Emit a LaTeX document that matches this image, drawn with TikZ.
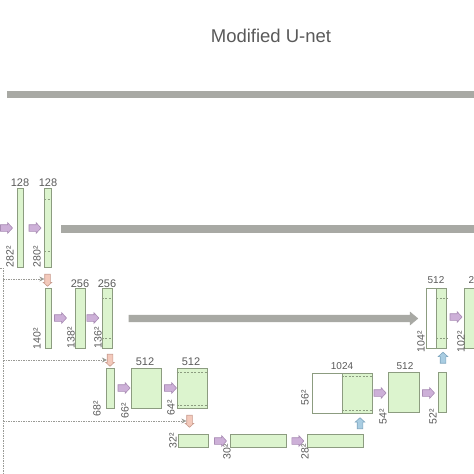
\documentclass[tikz,border=0pt]{standalone}
\usepackage{fontspec}
\setmainfont{Liberation Sans}
\usetikzlibrary{shapes.arrows,arrows.meta}
\definecolor{boxfill}{HTML}{DCF4CE}
\definecolor{boxline}{HTML}{8C9C80}
\definecolor{barcol}{HTML}{A8A9A4}
\definecolor{purfill}{HTML}{CDB0D8}
\definecolor{purline}{HTML}{A98CB4}
\definecolor{pinkfill}{HTML}{F3C9BB}
\definecolor{pinkline}{HTML}{C99C8E}
\definecolor{bluefill}{HTML}{A9CDE2}
\definecolor{blueline}{HTML}{7FA6BF}
\definecolor{txt}{HTML}{5A5A5A}
\definecolor{skip}{HTML}{9A9A96}
\newcommand\arrbody[1]{\makebox[#1pt]{\rule{0pt}{#1pt}}}
\tikzset{
  fmap/.style={draw=boxline, fill=boxfill, line width=0.8pt, inner sep=0pt, rectangle},
  wmap/.style={draw=boxline, fill=white, line width=0.8pt, inner sep=0pt, rectangle},
  inner/.style={boxline, dashed, line width=0.6pt, dash pattern=on 2pt off 1.5pt},
  chan/.style={text=txt, font=\fontsize{11}{11}\selectfont, inner sep=0pt},
  chans/.style={text=txt, font=\fontsize{10}{10}\selectfont, inner sep=0pt},
  dimlab/.style={text=txt, font=\fontsize{10.5}{10.5}\selectfont, inner sep=0pt, rotate=90},
  blk/.style={single arrow, inner sep=0pt, line width=0.6pt, single arrow head extend=2pt, single arrow tip angle=95},
  conv/.style={blk, draw=purline, fill=purfill, minimum height=12pt},
  down/.style={blk, draw=pinkline, fill=pinkfill, minimum height=12pt, shape border rotate=270, single arrow head extend=1.5pt},
  up/.style={blk, draw=blueline, fill=bluefill, minimum height=11pt, shape border rotate=90, single arrow head extend=2pt},
  bar/.style={fill=barcol, draw=none},
  skipline/.style={skip, dashed, line width=0.6pt, dash pattern=on 1.5pt off 1pt},
  skiparrow/.style={skipline, -{Stealth[length=5pt,width=5pt,fill=boxline]}}
}
\begin{document}
\begin{tikzpicture}[x=1pt,y=-1pt]
\useasboundingbox (0,0) rectangle (474,474);
\clip (0,0) rectangle (474,474);
\fill[white] (0,0) rectangle (474,474);

% title
\node[text=txt, font=\fontsize{18.5}{18.5}\selectfont, inner sep=0pt] (title) at (271,36) {Modified U-net};

% bars
\node[bar, minimum width=473pt, minimum height=7pt, inner sep=0pt] (bartop) at (243.5,94.5) {};
\node[bar, minimum width=419pt, minimum height=8pt, inner sep=0pt] (bar1) at (270.5,229) {};
\node[single arrow, fill=barcol, draw=none, inner sep=0pt, minimum height=289.5pt, single arrow head extend=3.25pt, single arrow tip angle=80] (bar2) at (271.25,318.5) {\arrbody{7}};

% level 1
\node[fmap, minimum width=6pt, minimum height=79pt] (b1) at (20,227.5) {};
\node[fmap, minimum width=7pt, minimum height=79pt] (b2) at (48,227.5) {};
\draw[inner] (b2.west |- 0,199) -- (b2.east |- 0,199);
\draw[inner] (b2.west |- 0,251) -- (b2.east |- 0,251);
\node[chan] (l1) at (20,183) {128};
\node[chan] (l2) at (48,183) {128};
\node[dimlab] (d1) at (10,257) {282²};
\node[dimlab] (d2) at (37,257) {280²};
\node[conv] (p1) at (5,228) {\arrbody{6}};
\node[conv] (p2) at (33.5,228) {\arrbody{6}};

% level 2
\node[fmap, minimum width=6pt, minimum height=60pt] (b3) at (48,318) {};
\node[fmap, minimum width=10pt, minimum height=60pt] (b4) at (80,318) {};
\node[fmap, minimum width=10pt, minimum height=60pt] (b5) at (107,318) {};
\draw[inner] (b5.west |- 0,298) -- (b5.east |- 0,298);
\draw[inner] (b5.west |- 0,338) -- (b5.east |- 0,338);
\node[chan] (l3) at (80,284) {256};
\node[chan] (l4) at (107,284) {256};
\node[dimlab] (d3) at (37,339) {140²};
\node[dimlab] (d4) at (71,338) {138²};
\node[dimlab] (d5) at (98,338) {136²};
\node[conv] (p3) at (59,318) {\arrbody{6}};
\node[conv] (p4) at (91.3,318) {\arrbody{6}};

% level 3
\node[fmap, minimum width=8pt, minimum height=40pt] (b6) at (110,388) {};
\node[fmap, minimum width=30pt, minimum height=40pt] (b7) at (146,388) {};
\node[fmap, minimum width=30pt, minimum height=40pt] (b8) at (192,388) {};
\draw[inner] (b8.west |- 0,372) -- (b8.east |- 0,372);
\draw[inner] (b8.west |- 0,405) -- (b8.east |- 0,405);
\node[chan] (l5) at (145,362) {512};
\node[chan] (l6) at (191,362) {512};
\node[dimlab] (d6) at (97,409) {68²};
\node[dimlab] (d7) at (125,411) {66²};
\node[dimlab] (d8) at (171,408) {64²};
\node[conv] (p5) at (122.5,388) {\arrbody{6}};
\node[conv] (p6) at (169,388) {\arrbody{6}};

% level 4
\node[fmap, minimum width=30pt, minimum height=13pt] (b9) at (193,440.5) {};
\node[fmap, minimum width=56pt, minimum height=13pt] (b10) at (258,440.5) {};
\node[fmap, minimum width=56pt, minimum height=13pt] (b11) at (335,440.5) {};
\node[dimlab] (d9) at (173,441) {32²};
\node[dimlab] (d10) at (227,452) {30²};
\node[dimlab] (d11) at (305,452) {28²};
\node[conv] (p7) at (219,441) {\arrbody{6}};
\node[conv] (p8) at (296.3,441) {\arrbody{6}};

% up level 3
\node[wmap, minimum width=30pt, minimum height=40pt] (b12w) at (327,393) {};
\node[fmap, minimum width=30pt, minimum height=40pt] (b12) at (357,393) {};
\draw[inner] (b12.west |- 0,376.7) -- (b12.east |- 0,376.7);
\draw[inner] (b12.west |- 0,410) -- (b12.east |- 0,410);
\node[fmap, minimum width=31pt, minimum height=40pt] (b13) at (403.5,392) {};
\node[fmap, minimum width=8pt, minimum height=40pt] (b14) at (442,392) {};
\node[chans] (l7) at (342,366) {1024};
\node[chans] (l8) at (405,366) {512};
\node[dimlab] (d12) at (305,398) {56²};
\node[dimlab] (d13) at (383,417) {54²};
\node[dimlab] (d14) at (433,417) {52²};
\node[conv] (p9) at (378.5,393) {\arrbody{6}};
\node[conv] (p10) at (427,393) {\arrbody{6}};
\node[up] (u1) at (360,424.5) {\arrbody{5}};

% up level 2
\node[wmap, minimum width=10.5pt, minimum height=60pt] (b15w) at (431.25,318) {};
\node[fmap, minimum width=10pt, minimum height=60pt] (b15) at (441.5,318) {};
\draw[inner] (b15.west |- 0,298) -- (b15.east |- 0,298);
\draw[inner] (b15.west |- 0,338) -- (b15.east |- 0,338);
\node[fmap, minimum width=12pt, minimum height=60pt] (b16) at (470,318) {};
\node[chans] (l9) at (436,280) {512};
\node[chans] (l10) at (477,280) {256};
\node[dimlab] (d15) at (421,342) {104²};
\node[dimlab] (d16) at (461,342) {102²};
\node[conv] (p11) at (454.5,317) {\arrbody{6}};
\node[up] (u2) at (443,359) {\arrbody{5}};

% pooling arrows
\node[down] (k1) at (47.5,279) {\arrbody{5}};
\node[down] (k2) at (110,359) {\arrbody{5}};
\node[down] (k3) at (189.5,420) {\arrbody{5}};

% skip dashed lines
\coordinate (s0) at (0,268);
\coordinate (sc) at (3,268);
\coordinate (sb) at (3,474);
\coordinate (s1) at (3,279);
\coordinate (s2) at (3,360);
\coordinate (s3) at (3,421);
\draw[skipline] (s0) -- (sc) -- (sb);
\draw[skiparrow] (s1) -- (k1.west |- s1);
\draw[skiparrow] (s2) -- (k2.west |- s2);
\draw[skiparrow] (s3) -- (k3.west |- s3);
\end{tikzpicture}
\end{document}
